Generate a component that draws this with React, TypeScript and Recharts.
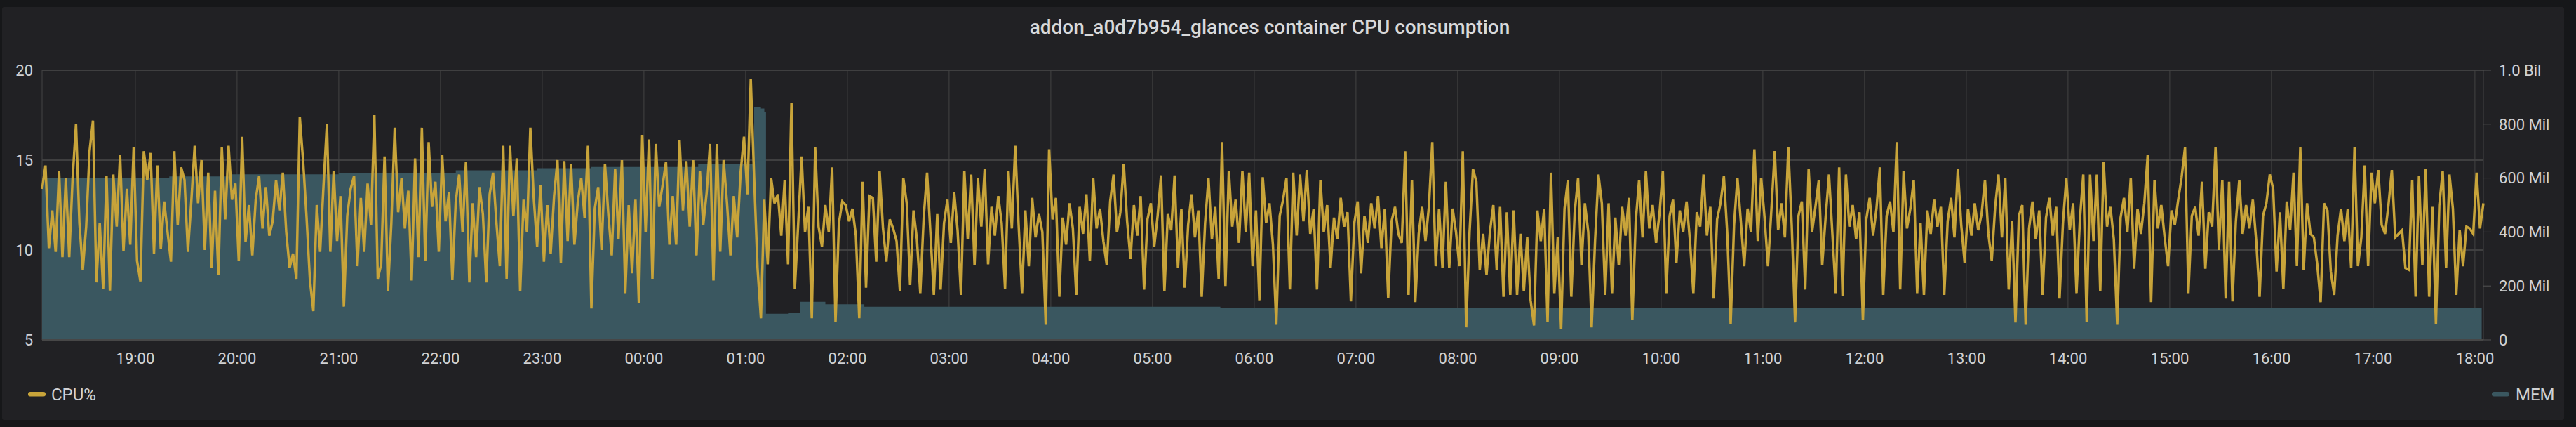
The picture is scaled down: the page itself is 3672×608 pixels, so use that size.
import { ComposedChart, Line, Area, XAxis, YAxis, CartesianGrid } from "recharts";

const TITLE = "addon_a0d7b954_glances container CPU consumption";

// CPU% sampled every 2 minutes, first sample at 18:05 (minutes counted from 18:00)
const cpuStart = 5;
const cpuStep = 2;
const cpuValues = [
  13.4, 14.7, 10.1, 12.2, 9.9, 14.4, 9.6, 14.0, 9.6, 14.0,
  17.0, 11.5, 8.9, 11.3, 15.5, 17.2, 8.2, 11.5, 7.85, 14.1,
  7.75, 14.2, 11.3, 15.3, 9.95, 13.4, 10.3, 15.7, 9.4, 8.25,
  15.5, 13.9, 15.4, 9.8, 14.7, 10.05, 12.7, 11.0, 9.35, 15.5,
  11.4, 14.6, 13.9, 9.9, 12.7, 15.8, 12.6, 15.0, 10.0, 14.3,
  9.0, 13.3, 8.6, 15.7, 11.7, 15.8, 12.8, 13.7, 9.4, 16.3,
  10.45, 12.5, 9.7, 12.8, 14.1, 11.2, 13.5, 10.8, 11.6, 13.9,
  12.2, 14.3, 11.0, 9.0, 9.8, 8.4, 17.4, 14.9, 11.8, 8.3,
  6.6, 12.5, 9.9, 13.6, 17.0, 9.9, 14.4, 10.5, 13.0, 6.85,
  11.9, 13.4, 14.1, 9.1, 12.9, 9.9, 13.7, 11.4, 17.5, 8.4,
  9.2, 15.2, 7.7, 11.5, 16.8, 12.1, 14.0, 11.2, 13.3, 8.3,
  15.1, 9.6, 16.8, 9.4, 16.0, 12.4, 13.8, 9.9, 15.3, 11.6,
  13.2, 8.35, 12.7, 14.2, 11.0, 14.9, 8.2, 12.6, 9.6, 13.5,
  12.0, 8.2, 13.1, 14.3, 11.5, 9.1, 15.8, 8.4, 15.8, 11.9,
  15.1, 7.7, 12.8, 11.0, 16.8, 12.9, 10.2, 13.6, 9.35, 12.5,
  9.8, 13.0, 15.0, 9.3, 14.95, 10.5, 14.8, 10.3, 12.7, 14.0,
  11.8, 15.8, 6.75, 12.3, 13.5, 10.0, 14.8, 12.0, 9.7, 14.5,
  10.6, 15.0, 7.6, 12.5, 8.7, 12.8, 7.05, 16.4, 11.0, 16.15,
  8.4, 15.9, 12.4, 13.6, 14.9, 10.3, 13.0, 10.3, 16.1, 12.2,
  14.95, 11.3, 15.0, 9.7, 14.4, 11.4, 13.2, 15.9, 8.3, 15.9,
  9.9, 15.0, 12.6, 9.7, 13.0, 10.7, 14.3, 16.3, 13.1, 19.5,
  14.0, 9.0, 6.2, 12.8, 9.2, 14.0, 12.6, 13.1, 10.8, 13.9,
  9.2, 18.2, 7.85, 11.5, 15.2, 11.0, 12.4, 6.2, 15.7, 11.3,
  10.2, 12.5, 11.0, 14.6, 6.0, 11.5, 12.7, 12.5, 11.6, 12.3,
  10.8, 6.2, 13.8, 7.9, 13.0, 12.9, 9.35, 14.4, 11.2, 9.35,
  11.7, 11.2, 10.5, 7.7, 14.0, 12.6, 8.05, 12.2, 10.6, 7.6,
  11.8, 14.3, 10.9, 7.5, 12.0, 7.8, 11.5, 12.8, 10.4, 13.2,
  11.1, 7.5, 14.4, 10.6, 14.2, 9.15, 14.0, 11.3, 14.5, 9.2,
  12.4, 10.8, 13.0, 11.5, 7.85, 14.4, 11.2, 15.8, 11.4, 7.6,
  12.2, 9.1, 12.9, 10.7, 12.0, 11.0, 5.84, 15.6, 11.7, 12.9,
  7.4, 11.8, 10.3, 12.6, 11.2, 7.5, 12.4, 10.9, 13.1, 9.4,
  14.0, 11.2, 12.3, 10.5, 9.15, 12.7, 14.2, 11.0, 12.1, 14.8,
  11.6, 9.5, 12.5, 10.8, 13.0, 7.8, 11.7, 12.6, 10.2, 11.9,
  14.15, 7.7, 12.0, 11.1, 14.15, 9.0, 12.3, 7.9, 11.4, 13.1,
  10.7, 12.2, 7.4, 11.5, 14.0, 10.6, 12.4, 8.4, 16.0, 8.0,
  14.4, 11.3, 12.8, 10.4, 14.4, 11.0, 14.3, 9.1, 12.2, 7.2,
  14.05, 11.5, 12.6, 10.3, 5.84, 11.9, 12.8, 14.0, 7.8, 14.3,
  10.8, 14.2, 11.6, 14.45, 10.9, 12.3, 7.8, 13.9, 11.0, 12.5,
  9.0, 11.8, 10.6, 12.9, 11.3, 12.1, 7.14, 11.5, 12.7, 8.7,
  11.9, 10.4, 12.6, 11.2, 13.0, 10.1, 12.3, 7.33, 11.6, 12.4,
  10.9, 10.4, 15.5, 7.5, 13.9, 7.1, 10.9, 12.4, 10.5, 12.4,
  16.0, 9.1, 12.3, 9.0, 13.8, 9.0, 12.3, 11.0, 9.1, 15.5,
  5.7, 11.0, 14.5, 13.8, 8.9, 10.9, 8.6, 11.0, 12.5, 8.9,
  12.4, 7.4, 12.1, 7.5, 12.2, 7.5, 10.9, 7.7, 10.7, 7.2,
  5.8, 12.2, 10.5, 12.3, 6.0, 14.3, 7.6, 10.7, 5.6, 12.3,
  13.9, 7.4, 12.1, 14.0, 9.15, 12.6, 11.0, 5.7, 10.5, 14.2,
  12.6, 7.5, 12.6, 7.6, 11.8, 9.15, 12.4, 10.8, 12.9, 6.1,
  11.6, 13.9, 10.7, 14.4, 11.2, 12.5, 10.4, 12.0, 14.4, 7.6,
  11.9, 12.8, 9.3, 12.2, 11.0, 12.7, 10.5, 7.6, 12.1, 11.3,
  14.2, 10.8, 12.4, 7.3, 11.7, 12.6, 14.1, 10.9, 5.9, 11.4,
  14.0, 11.6, 9.1, 12.3, 11.0, 15.6, 10.5, 14.0, 11.8, 9.1,
  12.2, 15.5, 11.1, 12.6, 10.7, 15.7, 11.4, 5.97, 11.9, 12.7,
  7.8, 14.5, 11.0, 12.4, 13.9, 9.16, 11.8, 14.2, 10.9, 7.6,
  14.6, 7.46, 14.2, 11.3, 12.5, 10.6, 12.1, 6.1, 11.7, 12.9,
  10.8, 12.3, 14.6, 7.5, 11.9, 12.7, 11.0, 16.0, 7.8, 14.4,
  11.2, 12.3, 13.9, 7.6, 11.5, 7.5, 12.2, 10.9, 12.8, 11.3,
  12.4, 7.5, 11.6, 12.9, 10.7, 14.5, 11.4, 9.3, 12.3, 10.8,
  12.6, 11.1, 12.0, 13.9, 10.9, 9.4, 12.4, 14.2, 10.7, 14.0,
  7.8, 11.6, 5.97, 11.9, 12.5, 5.84, 11.2, 12.7, 10.6, 12.2,
  7.5, 11.8, 12.9, 10.8, 12.4, 7.3, 11.5, 14.0, 11.1, 12.6,
  7.6, 11.7, 14.2, 6.0, 14.2, 10.5, 14.2, 7.7, 14.9, 11.3,
  12.4, 10.6, 5.84, 11.8, 12.9, 11.0, 14.0, 8.96, 12.3, 10.9,
  12.6, 15.3, 7.1, 13.9, 11.2, 12.5, 10.7, 9.1, 12.2, 11.4,
  12.8, 14.05, 15.7, 7.6, 11.9, 12.4, 10.8, 13.8, 8.96, 12.1,
  11.3, 15.7, 10.0, 13.9, 7.3, 13.8, 7.14, 11.6, 13.9, 10.9,
  12.5, 11.2, 12.8, 10.5, 7.4, 11.9, 12.6, 14.2, 13.4, 8.8,
  12.1, 7.85, 12.7, 11.1, 14.3, 9.1, 15.7, 8.9, 12.6, 10.9,
  10.7, 9.2, 7.1, 12.6, 12.2, 8.8, 7.5, 10.8, 12.3, 10.5,
  12.3, 9.0, 15.7, 9.1, 10.7, 14.7, 9.1, 14.3, 12.6, 14.45,
  11.4, 10.9, 12.5, 14.45, 10.7, 10.9, 11.1, 9.0, 8.9, 13.9,
  7.4, 14.1, 9.15, 14.5, 7.4, 12.4, 5.9, 12.5, 14.4, 9.0,
  14.2, 12.3, 7.5, 11.1, 9.1, 11.3, 11.2, 10.9, 14.3, 11.2,
  12.6,
];

// MEM step changes: minutes after 18:00, value in millions of bytes
const memMinutes = [5, 80, 116, 180, 249, 297, 329, 392, 425, 429, 431, 432, 445, 452, 467, 490, 700, 1000, 1300, 1444];
const memValues = [601, 606, 614, 620, 629, 637, 641, 653, 862, 858, 845, 97, 100, 141, 132, 123, 120, 119, 118, 117];

const hourTicks = [60, 120, 180, 240, 300, 360, 420, 480, 540, 600, 660, 720, 780, 840, 900, 960, 1020, 1080, 1140, 1200, 1260, 1320, 1380, 1440];
const hourLabels = ["19:00", "20:00", "21:00", "22:00", "23:00", "00:00", "01:00", "02:00", "03:00", "04:00", "05:00", "06:00", "07:00", "08:00", "09:00", "10:00", "11:00", "12:00", "13:00", "14:00", "15:00", "16:00", "17:00", "18:00"];
const cpuTicks = [5, 10, 15, 20];
const memTicks = [0, 200, 400, 600, 800, 1000];
const memTickLabels = ["0", "200 Mil", "400 Mil", "600 Mil", "800 Mil", "1.0 Bil"];

const cpuRows = cpuValues.map((v, i) => ({ t: cpuStart + i * cpuStep, cpu: v }));
const memRows = memMinutes.map((t, i) => ({ t, mem: memValues[i] }));

const FONT = "Roboto, 'Noto Sans', sans-serif";
const CPU_COLOR = "#c8a43a";
const MEM_COLOR = "#3a5760";
const TEXT = "#d0d1d3";

export default function App() {
  return (
    <div style={{ position: "relative", width: 3672, height: 608, background: "#161719", fontFamily: FONT }}>
      <style>{"body{margin:0;background:#161719}"}</style>
      <div style={{ position: "absolute", left: 3, top: 10, width: 3652, height: 588, background: "#212124", borderRadius: 3 }} />
      <div style={{ position: "absolute", left: 0, top: 0 }}>
        <ComposedChart width={3672} height={608} data={cpuRows} margin={{ top: 100, right: 0, bottom: 0, left: 0 }}>
          <CartesianGrid yAxisId="cpu" stroke="#4a4a4a" strokeWidth={1.5} vertical={false} />
          <CartesianGrid yAxisId="cpu" stroke="#444" strokeWidth={1} horizontal={false} />
          <XAxis
            dataKey="t"
            type="number"
            domain={[5, 1445]}
            ticks={hourTicks}
            interval={0}
            tickFormatter={(v) => hourLabels[hourTicks.indexOf(v)]}
            height={124}
            axisLine={{ stroke: "#474747", strokeWidth: 2 }}
            tickLine={false}
            tickSize={10}
            tickMargin={8}
            tick={{ fill: TEXT, fontSize: 22, fontFamily: FONT }}
          />
          <YAxis
            yAxisId="cpu"
            orientation="left"
            domain={[5, 20]}
            ticks={cpuTicks}
            width={60}
            axisLine={false}
            tickLine={false}
            tickSize={8}
            tickMargin={5}
            tick={{ fill: TEXT, fontSize: 22, fontFamily: FONT }}
          />
          <YAxis
            yAxisId="mem"
            orientation="right"
            domain={[0, 1000]}
            ticks={memTicks}
            tickFormatter={(v) => memTickLabels[memTicks.indexOf(v)]}
            width={132}
            axisLine={false}
            tickLine={{ stroke: "#555" }}
            tickSize={11}
            tickMargin={11}
            tick={{ fill: TEXT, fontSize: 22, fontFamily: FONT }}
          />
          <Area
            yAxisId="mem"
            data={memRows}
            dataKey="mem"
            type="stepAfter"
            fill={MEM_COLOR}
            fillOpacity={1}
            stroke="none"
            isAnimationActive={false}
          />
          <Line
            yAxisId="cpu"
            dataKey="cpu"
            type="linear"
            stroke={CPU_COLOR}
            strokeWidth={3.5}
            dot={false}
            activeDot={false}
            isAnimationActive={false}
          />
        </ComposedChart>
      </div>
      <svg width={3672} height={608} style={{ position: "absolute", left: 0, top: 0, pointerEvents: "none" }}>
        <text x={1810} y={48} textAnchor="middle" fill="#d8d9da" fontSize={28} fontWeight={500} fontFamily={FONT}>
          {TITLE}
        </text>
        <rect x={40} y={558} width={25} height={6.5} rx={3} fill={CPU_COLOR} />
        <text x={73} y={570} fill={TEXT} fontSize={24} fontFamily={FONT}>CPU%</text>
        <rect x={3552} y={558} width={25} height={6.5} rx={3} fill={MEM_COLOR} />
        <text x={3586} y={570} fill={TEXT} fontSize={24} fontFamily={FONT}>MEM</text>
      </svg>
    </div>
  );
}
